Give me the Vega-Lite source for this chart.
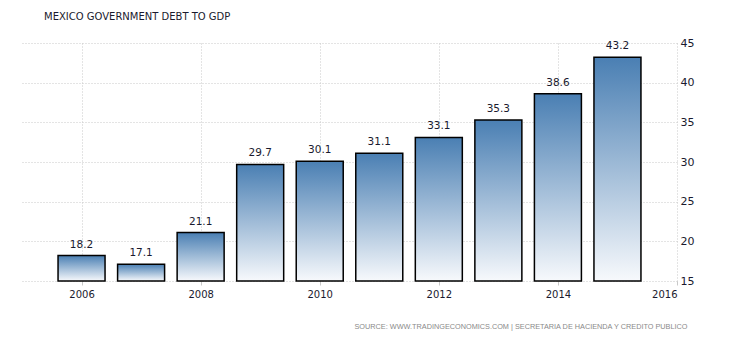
{
  "$schema": "https://vega.github.io/schema/vega-lite/v6.json",
  "width": 655,
  "height": 238,
  "autosize": {"type": "none"},
  "padding": {"left": 22, "top": 43, "right": 53, "bottom": 59},
  "background": "white",
  "title": {
    "text": "MEXICO GOVERNMENT DEBT TO GDP",
    "anchor": "start",
    "dx": 22,
    "offset": 15,
    "font": "DejaVu Sans",
    "fontSize": 10,
    "fontWeight": "normal",
    "color": "#1a1a2e"
  },
  "config": {
    "view": {"stroke": null},
    "font": "DejaVu Sans"
  },
  "data": {
    "values": [
      {"year": 2006, "value": 18.2},
      {"year": 2007, "value": 17.1},
      {"year": 2008, "value": 21.1},
      {"year": 2009, "value": 29.7},
      {"year": 2010, "value": 30.1},
      {"year": 2011, "value": 31.1},
      {"year": 2012, "value": 33.1},
      {"year": 2013, "value": 35.3},
      {"year": 2014, "value": 38.6},
      {"year": 2015, "value": 43.2}
    ]
  },
  "encoding": {
    "x": {
      "field": "year",
      "type": "quantitative",
      "scale": {"domain": [2005, 2016], "nice": false, "zero": false, "padding": 0},
      "axis": {
        "values": [2006, 2008, 2010, 2012, 2014, 2016],
        "format": "d",
        "grid": true,
        "gridColor": "#c8c8c8",
        "gridDash": [1, 2],
        "domain": false,
        "tickColor": "#c8c8c8",
        "tickSize": 4,
        "labelPadding": 4,
        "labelFontSize": 10,
        "labelColor": "#1a1a2e",
        "labelFont": "DejaVu Sans",
        "title": "SOURCE: WWW.TRADINGECONOMICS.COM | SECRETARIA DE HACIENDA Y CREDITO PUBLICO",
        "titleFontSize": 7.3,
        "titleFontWeight": "normal",
        "titleColor": "#8a8a8a",
        "titleFont": "Liberation Sans",
        "titleAnchor": "end",
        "titleAlign": "right",
        "titleX": 665,
        "titlePadding": 23
      }
    },
    "y": {
      "field": "value",
      "type": "quantitative",
      "scale": {"domain": [15, 45], "nice": false, "zero": false},
      "axis": {
        "orient": "right",
        "values": [15, 20, 25, 30, 35, 40, 45],
        "grid": true,
        "gridColor": "#c8c8c8",
        "gridDash": [1, 2],
        "domain": false,
        "ticks": false,
        "labelPadding": 3,
        "labelFontSize": 11,
        "labelColor": "#1a1a2e",
        "labelFont": "DejaVu Sans",
        "title": null
      }
    }
  },
  "layer": [
    {
      "mark": {
        "type": "bar",
        "size": 47,
        "stroke": "black",
        "strokeWidth": 1.5,
        "color": {
          "gradient": "linear",
          "x1": 0, "y1": 0, "x2": 0, "y2": 1,
          "stops": [
            {"offset": 0, "color": "#4a7fb3"},
            {"offset": 1, "color": "#f7f9fc"}
          ]
        }
      },
      "encoding": {
        "y2": {"datum": 15}
      }
    },
    {
      "mark": {
        "type": "text",
        "dy": -11,
        "fontSize": 10.5,
        "color": "#1a1a2e",
        "font": "DejaVu Sans"
      },
      "encoding": {
        "text": {"field": "value", "type": "quantitative", "format": ".1f"}
      }
    }
  ]
}
